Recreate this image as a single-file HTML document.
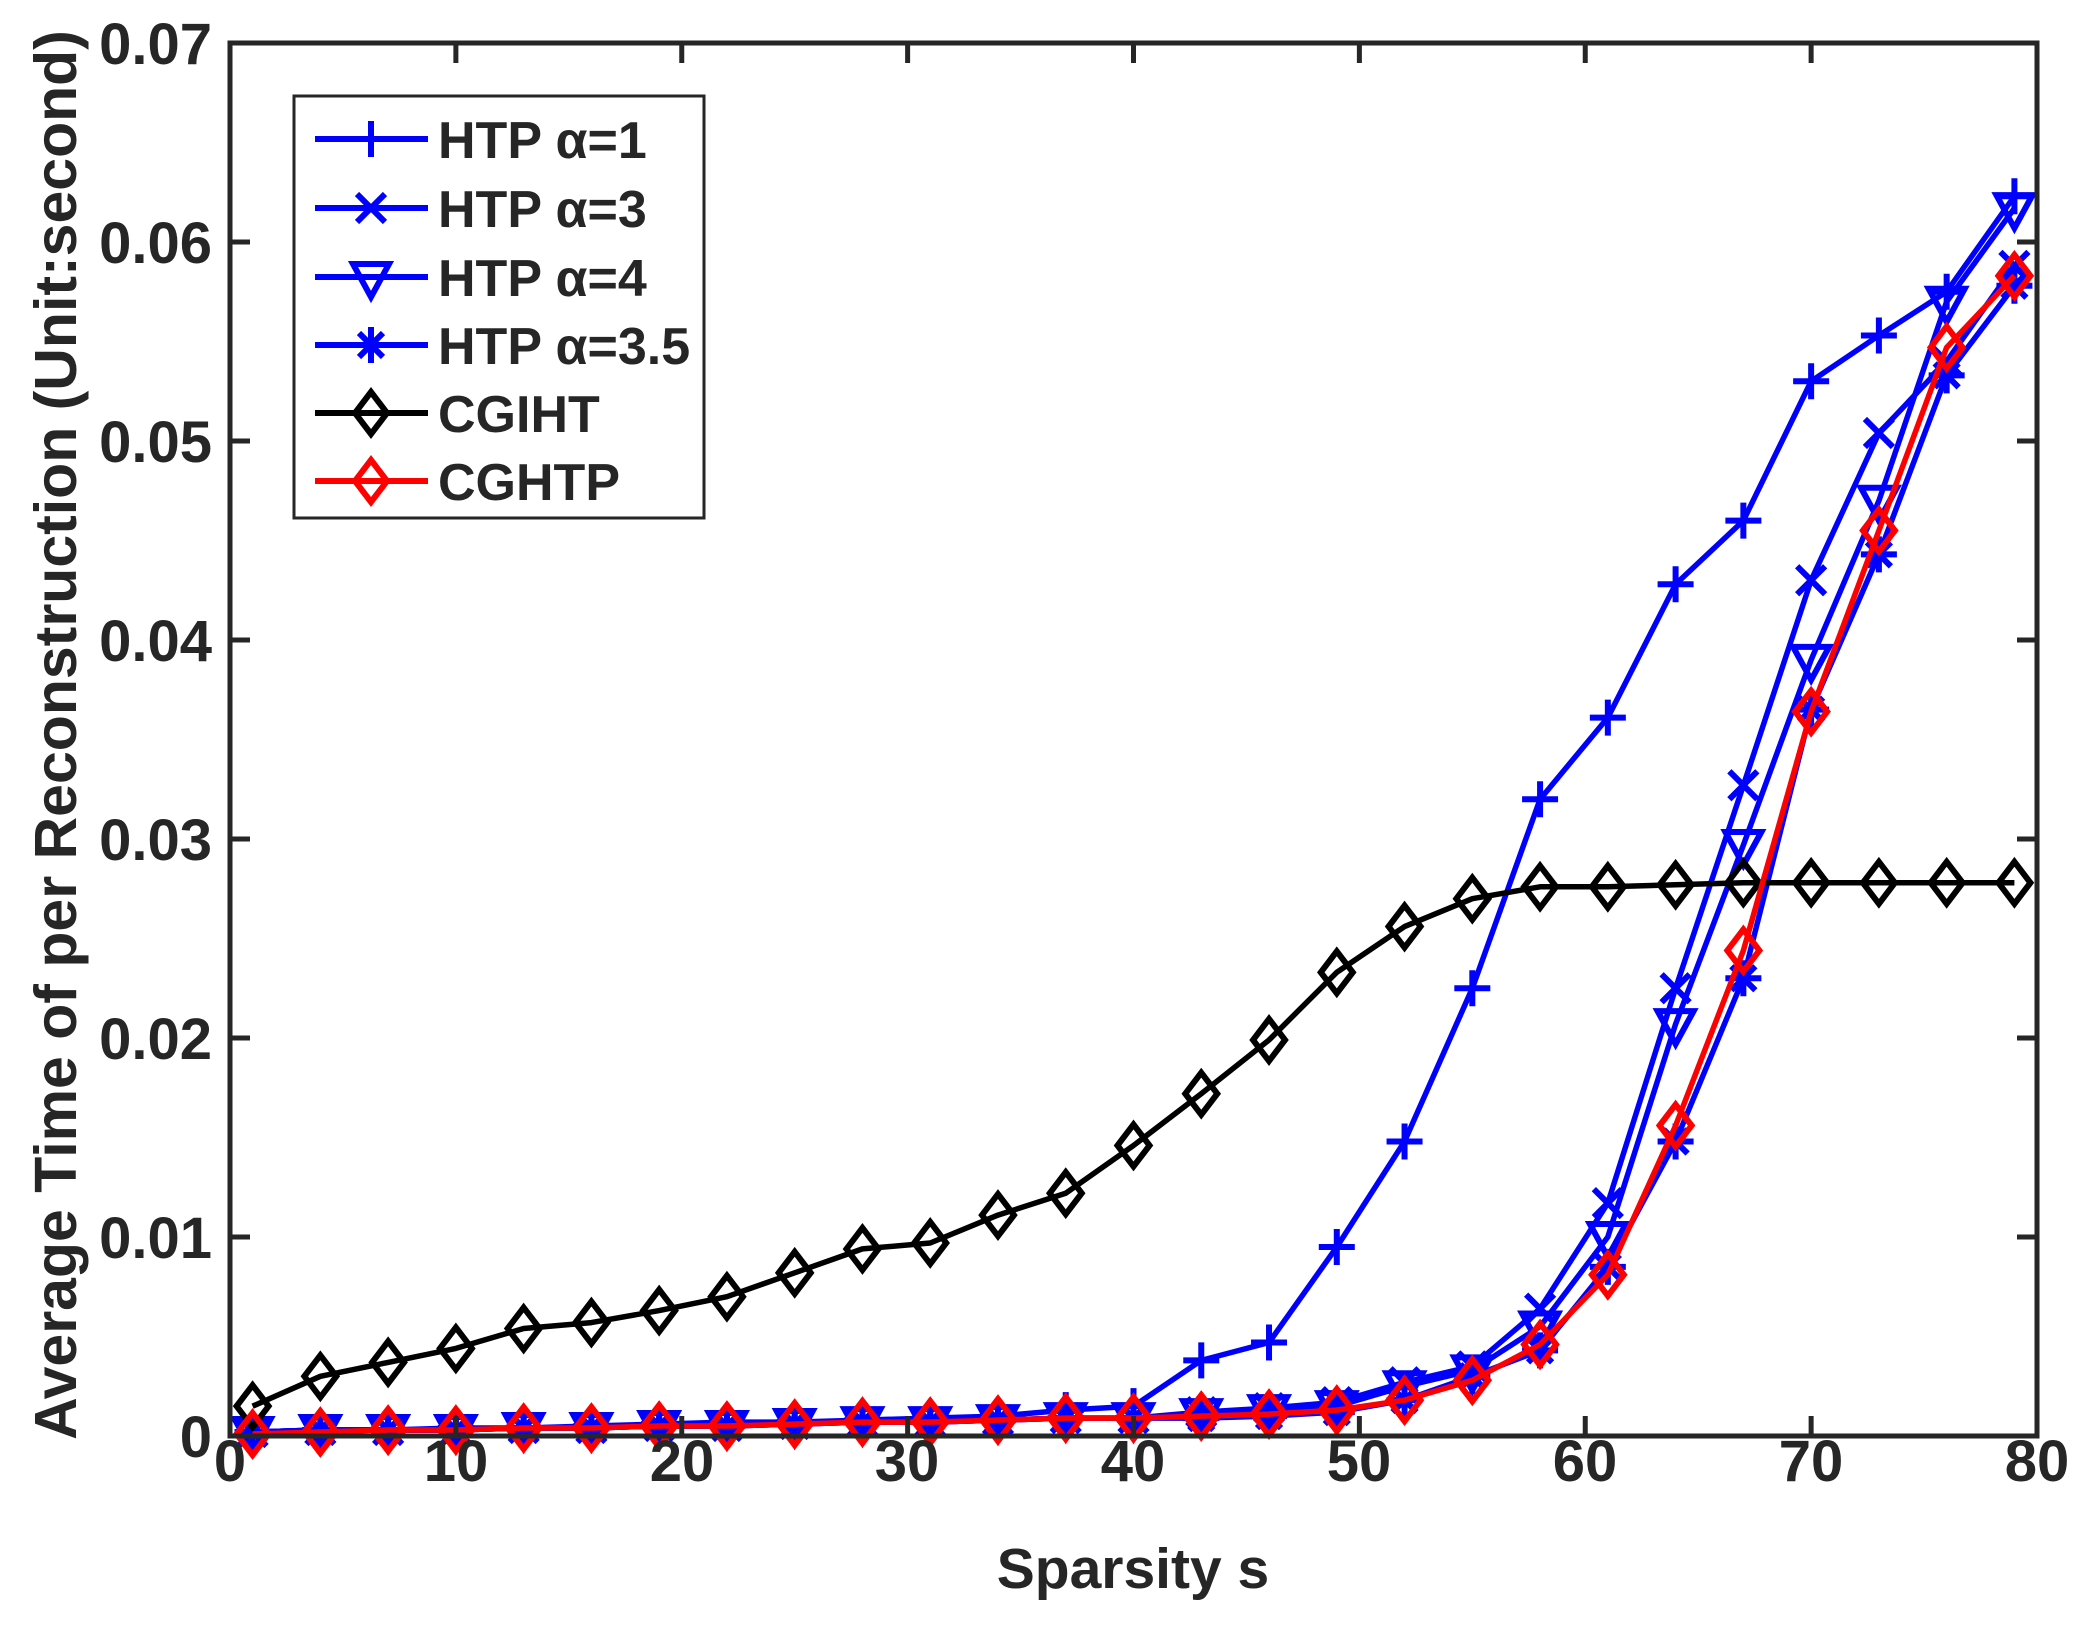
<!DOCTYPE html>
<html><head><meta charset="utf-8"><style>
html,body{margin:0;padding:0;background:#fff;}
svg{display:block;}
text{font-family:"Liberation Sans",Arial,sans-serif;font-weight:bold;fill:#262626;}
</style></head><body>
<svg id="s" width="2095" height="1625" viewBox="0 0 2095 1625" xmlns="http://www.w3.org/2000/svg">
<rect width="2095" height="1625" fill="#fff"/>
<g id="plot"></g>
<rect x="230" y="43" width="1807" height="1393" fill="none" stroke="#262626" stroke-width="5"/>
<g id="ticks" stroke="#262626" stroke-width="5"></g>
<g font-size="58" text-anchor="middle">
<text x="230" y="1481">0</text><text x="456" y="1481">10</text><text x="682" y="1481">20</text><text x="907" y="1481">30</text><text x="1133" y="1481">40</text><text x="1359" y="1481">50</text><text x="1585" y="1481">60</text><text x="1811" y="1481">70</text><text x="2037" y="1481">80</text>
</g>
<g font-size="58" text-anchor="end">
<text x="212" y="1457">0</text><text x="212" y="1258">0.01</text><text x="212" y="1059">0.02</text><text x="212" y="860">0.03</text><text x="212" y="661">0.04</text><text x="212" y="462">0.05</text><text x="212" y="263">0.06</text><text x="212" y="64">0.07</text>
</g>
<text x="1133" y="1588" font-size="57" text-anchor="middle">Sparsity s</text>
<text transform="translate(76,735) rotate(-90)" font-size="59" text-anchor="middle">Average Time of per Reconstruction (Unit:second)</text>
<rect x="294" y="96" width="410" height="422" fill="#fff" stroke="#262626" stroke-width="3"/>
<g id="leg"></g>
<g font-size="52" fill="#000">
<text x="438" y="158">HTP α=1</text>
<text x="438" y="227">HTP α=3</text>
<text x="438" y="296">HTP α=4</text>
<text x="438" y="364">HTP α=3.5</text>
<text x="438" y="432" font-weight="normal">CGIHT</text>
<text x="438" y="500" font-weight="normal">CGHTP</text>
</g>
</svg>
<script>
var NS="http://www.w3.org/2000/svg";
function X(s){return 230+s*22.5875;}
function Y(v){return 1436-v*19900;}
var xs=[];for(var s=1;s<=79;s+=3)xs.push(s);
var small=[0.0002,0.0003,0.0003,0.0003,0.0004,0.0004,0.0005,0.0005,0.0006,0.0007,0.0007,0.0008,0.0009,0.0009,0.0010,0.0010];
function mk(tail,lead){var a=lead.slice();while(a.length<27-tail.length)a.push(small[a.length]);return a.concat(tail);}
var htp1=[0.0002,0.0003,0.0003,0.0004,0.0004,0.0005,0.0006,0.0007,0.0007,0.0008,0.0009,0.0010,0.0013,0.0015,0.0038,0.0047,0.0095,0.0148,0.0225,0.0320,0.0361,0.0428,0.0460,0.0530,0.0553,0.0575,0.0623];
var htp3=mk([0.0012,0.0014,0.0017,0.0027,0.0035,0.0064,0.0117,0.0225,0.0327,0.0430,0.0504,0.0540,0.0588],[]);
var htp4=mk([0.0011,0.0013,0.0015,0.0025,0.0033,0.0055,0.0100,0.0207,0.0297,0.0390,0.0470,0.0570,0.0617],[]);
var htp35=mk([0.0009,0.0010,0.0012,0.0018,0.0030,0.0043,0.0085,0.0148,0.0230,0.0365,0.0443,0.0533,0.0578],[]);
var cgiht=[0.0015,0.0030,0.0037,0.0044,0.0054,0.0057,0.0063,0.0070,0.0082,0.0094,0.0097,0.0111,0.0122,0.0146,0.0172,0.0199,0.0233,0.0256,0.0270,0.0276,0.0276,0.0277,0.0278,0.0278,0.0278,0.0278,0.0278];
var cghtp=mk([0.0010,0.0011,0.0013,0.0018,0.0028,0.0046,0.0081,0.0156,0.0244,0.0364,0.0455,0.0547,0.0583],[0.0001,0.0002]);
function el(p,n,a){var e=document.createElementNS(NS,n);for(var k in a)e.setAttribute(k,a[k]);p.appendChild(e);return e;}
function marker(g,t,x,y,c){var r=18,w=6;
 if(t=='+'){el(g,'path',{d:'M'+(x-r)+' '+y+'H'+(x+r)+'M'+x+' '+(y-r)+'V'+(y+r),stroke:c,'stroke-width':w,fill:'none'});}
 else if(t=='x'){var q=14;el(g,'path',{d:'M'+(x-q)+' '+(y-q)+'L'+(x+q)+' '+(y+q)+'M'+(x-q)+' '+(y+q)+'L'+(x+q)+' '+(y-q),stroke:c,'stroke-width':w,fill:'none'});}
 else if(t=='v'){el(g,'path',{d:'M'+(x-18)+' '+(y-13)+'L'+(x+18)+' '+(y-13)+'L'+x+' '+(y+20)+'Z',stroke:c,'stroke-width':w,fill:'none'});}
 else if(t=='*'){var q=12;el(g,'path',{d:'M'+(x-r)+' '+y+'H'+(x+r)+'M'+x+' '+(y-r)+'V'+(y+r)+'M'+(x-q)+' '+(y-q)+'L'+(x+q)+' '+(y+q)+'M'+(x-q)+' '+(y+q)+'L'+(x+q)+' '+(y-q),stroke:c,'stroke-width':w,fill:'none'});}
 else if(t=='d'){el(g,'path',{d:'M'+x+' '+(y-21)+'L'+(x+16)+' '+y+'L'+x+' '+(y+21)+'L'+(x-16)+' '+y+'Z',stroke:c,'stroke-width':w,fill:'none'});}
}
var series=[[htp1,'#0000ff','+'],[htp3,'#0000ff','x'],[htp4,'#0000ff','v'],[htp35,'#0000ff','*'],[cgiht,'#000','d'],[cghtp,'#ff0000','d']];
var g=document.getElementById('plot');
series.forEach(function(s){var d='';s[0].forEach(function(v,i){d+=(i?'L':'M')+X(xs[i]).toFixed(1)+' '+Y(v).toFixed(1);});
 el(g,'path',{d:d,stroke:s[1],'stroke-width':5.5,fill:'none','stroke-linejoin':'round'});
 s[0].forEach(function(v,i){marker(g,s[2],X(xs[i]),Y(v),s[1]);});});
var lg=document.getElementById('leg');var ly=[139,208,277,345,413,481];
series.forEach(function(s,i){el(lg,'path',{d:'M315 '+ly[i]+'H428',stroke:s[1],'stroke-width':6});marker(lg,s[2],371,ly[i],s[1]);});
var tk=document.getElementById('ticks');var d='';
for(var i=1;i<8;i++){var x=X(i*10);d+='M'+x+' 1436V1416M'+x+' 43V63';}
for(var j=1;j<7;j++){var y=Y(j*0.01);d+='M230 '+y+'H250M2037 '+y+'H2017';}
el(tk,'path',{d:d,fill:'none'});
</script>
</body></html>
